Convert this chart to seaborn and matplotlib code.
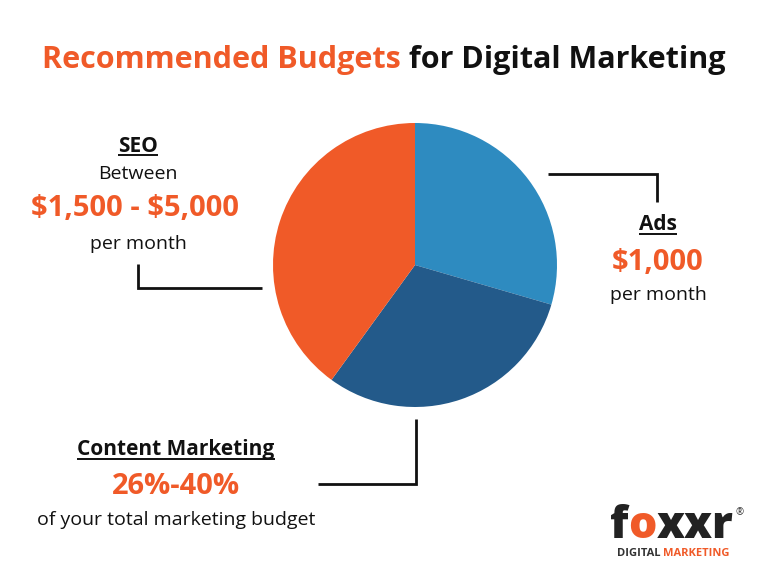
import matplotlib
matplotlib.use('Agg')
import matplotlib.pyplot as plt
import seaborn as sns

# pie data (share of the circle)
categories = ['Ads', 'Content Marketing', 'SEO']
shares = [29.5, 30.5, 40.0]
slice_colors = ['#2E8BC0', '#235A8A', '#F05A28']

title_orange = 'Recommended Budgets'
title_black = ' for Digital Marketing'

seo_lines = ['SEO', 'Between', r'\$1,500 - \$5,000', 'per month']
ads_lines = ['Ads', r'\$1,000', 'per month']
content_lines = ['Content Marketing', '26%-40%', 'of your total marketing budget']

ORANGE = '#F05A28'
BLACK = '#111111'
W, H = 768, 576
HEAD, BIG, BODY = 15, 21, 14

sns.set_theme(style='white')
plt.rcParams['font.family'] = ['Open Sans', 'DejaVu Sans']

fig = plt.figure(figsize=(W / 100, H / 100), dpi=100)
fig.patch.set_facecolor('white')

# pie axes: centre (415, 265), radius 142 px
cx, cy, r = 415, 265, 142
pie_ax = fig.add_axes([(cx - r) / W, (H - cy - r) / H, 2 * r / W, 2 * r / H])
pie_ax.pie(shares, colors=slice_colors, startangle=90, counterclock=False,
           wedgeprops=dict(linewidth=0))
pie_ax.set_xlim(-1, 1)
pie_ax.set_ylim(-1, 1)
pie_ax.set_aspect('equal')
pie_ax.axis('off')

# overlay in pixel coordinates
ov = fig.add_axes([0, 0, 1, 1])
ov.set_xlim(0, W)
ov.set_ylim(H, 0)
ov.axis('off')
ov.patch.set_visible(False)

renderer = fig.canvas.get_renderer()


def width_px(t):
    return t.get_window_extent(renderer=renderer).width


def two_color(x_center, y, parts, **kw):
    texts = [ov.text(0, y, s, color=c, ha='left', va='center', **kw) for s, c in parts]
    widths = [width_px(t) for t in texts]
    x = x_center - sum(widths) / 2
    for t, w in zip(texts, widths):
        t.set_x(x)
        x += w
    return texts


def underlined(x, y, s, size):
    t = ov.text(x, y, s, color=BLACK, ha='center', va='center',
                fontsize=size, fontweight='bold')
    w = width_px(t)
    uy = y + size * 0.6
    ov.plot([x - w / 2, x + w / 2], [uy, uy], color=BLACK, lw=1.4,
            solid_capstyle='butt')
    return t


# title
two_color(384, 60, [(title_orange, ORANGE), (title_black, BLACK)],
          fontsize=22, fontweight='bold')

# SEO block
underlined(138, 146, seo_lines[0], HEAD)
ov.text(138, 174, seo_lines[1], color=BLACK, ha='center', va='center', fontsize=BODY)
ov.text(135, 209, seo_lines[2], color=ORANGE, ha='center', va='center',
        fontsize=BIG, fontweight='bold')
ov.text(138, 244, seo_lines[3], color=BLACK, ha='center', va='center', fontsize=BODY)

# Ads block
underlined(658, 225, ads_lines[0], HEAD)
ov.text(658, 262, ads_lines[1], color=ORANGE, ha='center', va='center',
        fontsize=BIG, fontweight='bold')
ov.text(658, 295, ads_lines[2], color=BLACK, ha='center', va='center', fontsize=BODY)

# Content block
underlined(176, 450, content_lines[0], HEAD)
ov.text(176, 487, content_lines[1], color=ORANGE, ha='center', va='center',
        fontsize=BIG, fontweight='bold')
ov.text(176, 520, content_lines[2], color=BLACK, ha='center', va='center', fontsize=BODY)

# connector lines
line_kw = dict(color=BLACK, lw=2, solid_joinstyle='miter', solid_capstyle='butt')
ov.plot([138, 138, 262], [264, 288, 288], **line_kw)
ov.plot([548, 657, 657], [174, 174, 202], **line_kw)
ov.plot([318, 416, 416], [484, 484, 419], **line_kw)

# logo
two_color(672, 526, [('f', '#222222'), ('o', ORANGE), ('xxr', '#222222')],
          fontsize=32, fontweight='heavy')
ov.text(740, 513, '®', color='#333333', ha='center', va='center', fontsize=7)
two_color(673, 553, [('DIGITAL ', '#333333'), ('MARKETING', ORANGE)],
          fontsize=8, fontweight='bold')

fig.savefig('out.png', dpi=100)
